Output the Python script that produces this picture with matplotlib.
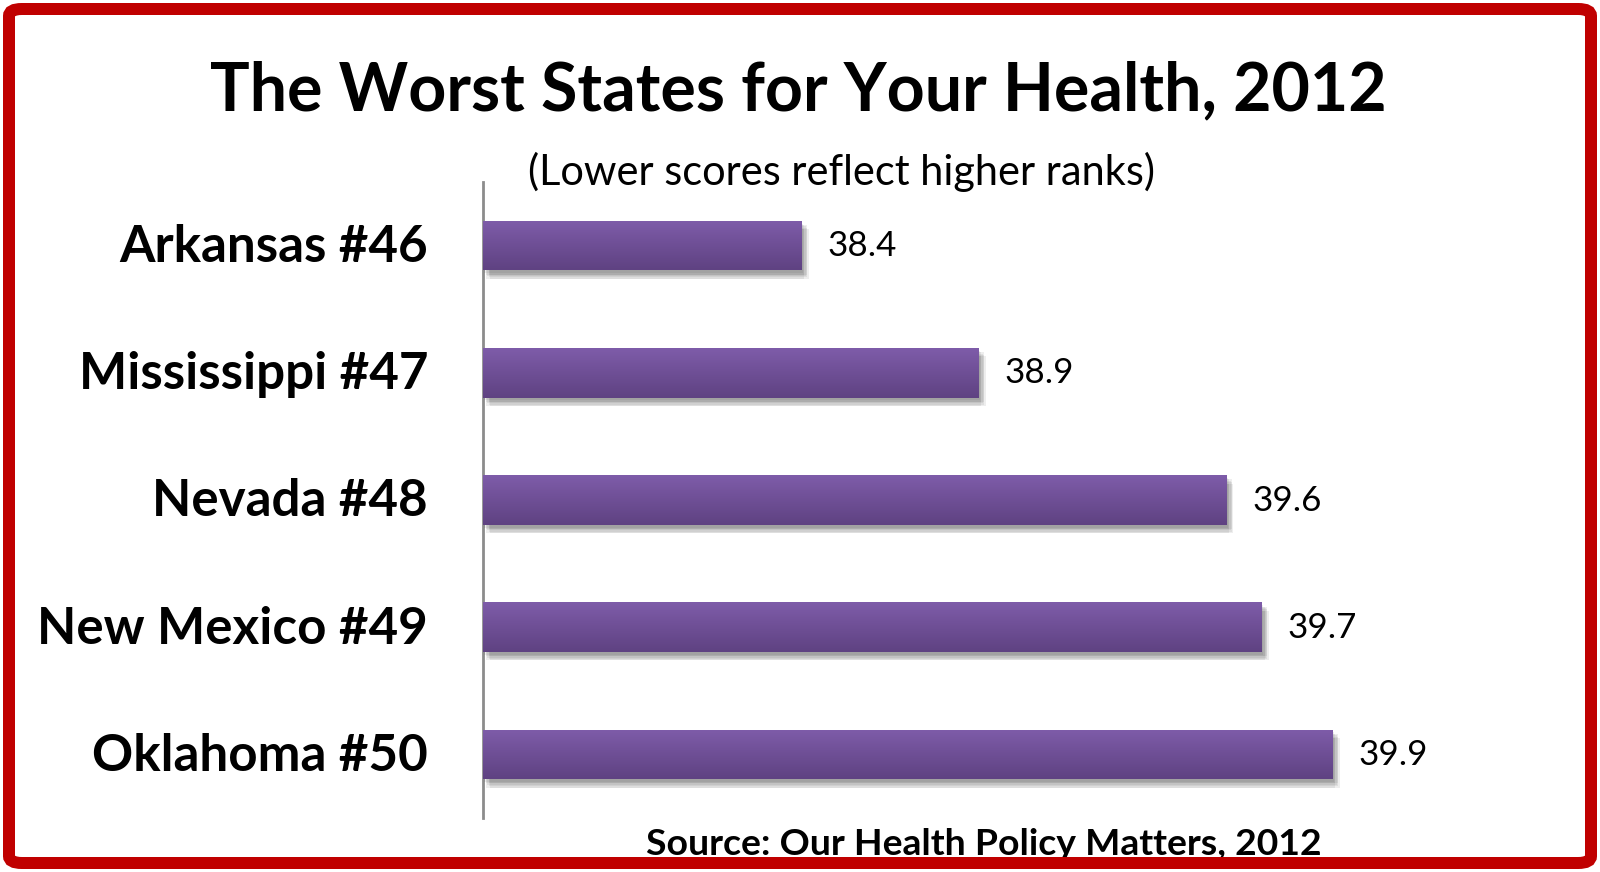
import matplotlib
matplotlib.use("Agg")
import matplotlib.pyplot as plt
import matplotlib.patheffects as pe
from matplotlib.patches import FancyBboxPatch
import matplotlib.transforms as mtransforms
from matplotlib.colors import LinearSegmentedColormap
import numpy as np

states = ["Arkansas #46", "Mississippi #47", "Nevada #48", "New Mexico #49", "Oklahoma #50"]
scores = [38.4, 38.9, 39.6, 39.7, 39.9]
value_labels = ["38.4", "38.9", "39.6", "39.7", "39.9"]
title = "The Worst States for Your Health, 2012"
subtitle = "(Lower scores reflect higher ranks)"
source = "Source: Our Health Policy Matters, 2012"

W, H, DPI = 1600, 872, 100
fig = plt.figure(figsize=(W / DPI, H / DPI), dpi=DPI)
fig.patch.set_facecolor("white")
FONT = "Lato"

ax = fig.add_axes([483 / W, 1 - 818 / H, (1545 - 483) / W, (818 - 182) / H])
ax.set_xlim(37.5, 40.5)
ax.set_ylim(len(states) - 0.5, -0.5)

ypos = np.arange(len(states))
bars = ax.barh(ypos, [s - 37.5 for s in scores], left=37.5, height=0.39,
               color="#6E4E98", edgecolor="none", zorder=3)

cmap = LinearSegmentedColormap.from_list("g", ["#7E5CA9", "#5F4282"])
grad = np.linspace(0, 1, 64).reshape(-1, 1)
shadow_fx = [pe.SimplePatchShadow(offset=(dx, dy), shadow_rgbFace="#444444", alpha=0.09)
             for dx, dy in [(1, -2), (2, -3), (3, -4), (4, -5), (5, -6), (2, -6), (4, -3)]]
for b in bars:
    b.set_path_effects(shadow_fx + [pe.Normal()])
    x0, y0 = b.get_x(), b.get_y()
    im = ax.imshow(grad, cmap=cmap, aspect="auto", interpolation="bilinear",
                   extent=(x0, x0 + b.get_width(), y0 + b.get_height(), y0), zorder=4)
    im.set_clip_path(b)
ax.set_xlim(37.5, 40.5)
ax.set_ylim(len(states) - 0.5, -0.5)

for s in ["top", "right", "bottom"]:
    ax.spines[s].set_visible(False)
ax.spines["left"].set_color("#8C8C8C")
ax.spines["left"].set_linewidth(2)
ax.set_xticks([])
ax.set_yticks([])
ax.patch.set_alpha(0)

renderer = fig.canvas.get_renderer()

def fit_size(txt, target_px, weight):
    t = fig.text(0, 0, txt, fontsize=20, family=FONT, fontweight=weight)
    w = t.get_window_extent(renderer).width
    t.remove()
    return 20 * target_px / w

cat_size = fit_size("New Mexico #49", 391, "bold")
val_size = fit_size("38.4", 69, "normal")

def cap_offset(size):
    return -size * 0.72 / 2 + 2 * 72 / DPI  # points

for i, (lab, v, vl) in enumerate(zip(states, scores, value_labels)):
    tr = mtransforms.offset_copy(ax.transData, fig=fig, x=0, y=cap_offset(cat_size), units="points")
    ax.text(37.5 - (483 - 428) / 354.0, i, lab, transform=tr, ha="right", va="baseline",
            fontsize=cat_size, fontweight="bold", family=FONT, color="black")
    tr2 = mtransforms.offset_copy(ax.transData, fig=fig, x=26 * 72 / DPI, y=cap_offset(val_size), units="points")
    ax.text(v, i, vl, transform=tr2, ha="left", va="baseline",
            fontsize=val_size, family=FONT, color="black")

fig.text(798 / W, 1 - 110 / H, title, ha="center", va="baseline",
         fontsize=fit_size(title, 1175, "bold"), fontweight="bold", family=FONT)
fig.text(842 / W, 1 - 185 / H, subtitle, ha="center", va="baseline",
         fontsize=fit_size(subtitle, 628, "normal"), family=FONT)
fig.text(983.5 / W, 1 - 855 / H, source, ha="center", va="baseline",
         fontsize=fit_size(source, 677, "bold"), fontweight="bold", family=FONT)

lw_px = 12
border = FancyBboxPatch((9 / W, 9 / H), 1 - 18 / W, 1 - 18 / H,
                        boxstyle="round,pad=0,rounding_size=0.008",
                        transform=fig.transFigure, facecolor="none",
                        edgecolor="#C00000", linewidth=lw_px * 72 / DPI, zorder=10)
fig.patches.append(border)

fig.savefig("out.png", dpi=DPI, facecolor="white")
